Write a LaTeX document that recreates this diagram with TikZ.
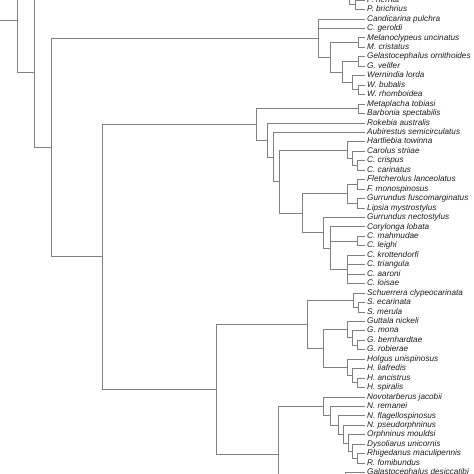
\documentclass[tikz,border=0pt]{standalone}
\usepackage{fontspec}
\setmainfont{Liberation Sans}
\definecolor{lg}{RGB}{128,128,128}
\definecolor{tx}{RGB}{30,30,30}
\begin{document}
\begin{tikzpicture}[x=1pt,y=-1pt,
  br/.style={draw=lg,line width=0.9pt},
  lab/.style={anchor=west,inner xsep=2pt,inner ysep=0pt,text height=6pt,text depth=1.8pt,font=\fontsize{8.2}{9}\selectfont\itshape,text=tx}]
\useasboundingbox (0,0) rectangle (474,474);
\clip (0,0) rectangle (474,474);
\fill[white] (0,0) rectangle (474,474);
% tips
\node[lab] (tA) at (365,0.1) {P. nernat};
\node[lab] (tB) at (365,9.55) {P. brichrius};
\node[lab] (t1) at (365,19) {Candicarina pulchra};
\node[lab] (t2) at (365,28.45) {C. geroldi};
\node[lab] (t3) at (365,37.9) {Melanoclypeus uncinatus};
\node[lab] (t4) at (365,47.35) {M. cristatus};
\node[lab] (t5) at (365,56.8) {Gelastocephalus ornithoides};
\node[lab] (t6) at (365,66.25) {G. velifer};
\node[lab] (t7) at (365,75.7) {Wernindia lorda};
\node[lab] (t8) at (365,85.15) {W. bubalis};
\node[lab] (t9) at (365,94.6) {W. rhomboidea};
\node[lab] (t10) at (365,104.05) {Metaplacha tobiasi};
\node[lab] (t11) at (365,113.5) {Barbonia spectabilis};
\node[lab] (t12) at (365,122.95) {Rokebia australis};
\node[lab] (t13) at (365,132.4) {Aubirestus semicirculatus};
\node[lab] (t14) at (365,141.85) {Hartliebia towinna};
\node[lab] (t15) at (365,151.3) {Carolus striiae};
\node[lab] (t16) at (365,160.75) {C. crispus};
\node[lab] (t17) at (365,170.2) {C. carinatus};
\node[lab] (t18) at (365,179.65) {Fletcherolus lanceolatus};
\node[lab] (t19) at (365,189.1) {F. monospinosus};
\node[lab] (t20) at (365,198.55) {Gurrundus fuscomarginatus};
\node[lab] (t21) at (365,208) {Lipsia mystrostylus};
\node[lab] (t22) at (365,217.45) {Gurrundus nectostylus};
\node[lab] (t23) at (365,226.9) {Corylonga lobata};
\node[lab] (t24) at (365,236.35) {C. mahmudae};
\node[lab] (t25) at (365,245.8) {C. leighi};
\node[lab] (t26) at (365,255.25) {C. krottendorfi};
\node[lab] (t27) at (365,264.7) {C. triangula};
\node[lab] (t28) at (365,274.15) {C. aaroni};
\node[lab] (t29) at (365,283.6) {C. loisae};
\node[lab] (t30) at (365,293.05) {Schuerrera clypeocarinata};
\node[lab] (t31) at (365,302.5) {S. ecarinata};
\node[lab] (t32) at (365,311.95) {S. merula};
\node[lab] (t33) at (365,321.4) {Guttala nickeli};
\node[lab] (t34) at (365,330.85) {G. mona};
\node[lab] (t35) at (365,340.3) {G. bernhardtae};
\node[lab] (t36) at (365,349.75) {G. robierae};
\node[lab] (t37) at (365,359.2) {Holgus unispinosus};
\node[lab] (t38) at (365,368.65) {H. liafredis};
\node[lab] (t39) at (365,378.1) {H. ancistrus};
\node[lab] (t40) at (365,387.55) {H. spiralis};
\node[lab] (t41) at (365,397) {Novotarberus jacobii};
\node[lab] (t42) at (365,406.45) {N. remanei};
\node[lab] (t43) at (365,415.9) {N. flagellospinosus};
\node[lab] (t44) at (365,425.35) {N. pseudorphninus};
\node[lab] (t45) at (365,434.8) {Orphninus mouldsi};
\node[lab] (t46) at (365,444.25) {Dysoliarus unicornis};
\node[lab] (t47) at (365,453.7) {Rhigedanus maculipennis};
\node[lab] (t48) at (365,463.15) {R. fomibundus};
\node[lab] (t49) at (365,472.6) {Galastocephalus desiccatibi};
% internal nodes
\coordinate (root) at (-5,20);
\coordinate (n17) at (17,20);
\coordinate (n17up) at (17,-10);
\coordinate (n34) at (34,72);
\coordinate (n34up) at (34,-10);
\coordinate (n51) at (51,147.5);
\coordinate (nCand) at (318,38.2);
\coordinate (n330) at (330,57.4);
\coordinate (nMel) at (358,42.6);
\coordinate (n342) at (342,72.15);
\coordinate (nGel) at (358,61.5);
\coordinate (nWer) at (352,82.8);
\coordinate (nWb) at (358,89.9);
\coordinate (nPPup) at (349,-10);
\coordinate (nP) at (355,4.8);
\coordinate (n102) at (102,256.8);
\coordinate (n256) at (256,124.4);
\coordinate (nMet) at (358,108.8);
\coordinate (n267) at (267,140);
\coordinate (n273) at (273,157.05);
\coordinate (n279) at (279,181.7);
\coordinate (nHart) at (347,150.1);
\coordinate (nCar) at (352,158.4);
\coordinate (nCc) at (357,165.5);
\coordinate (n302) at (302,213.3);
\coordinate (nFl) at (347,193.8);
\coordinate (nFl1) at (357,184.4);
\coordinate (nFl2) at (357,203.3);
\coordinate (n323a) at (323,232.8);
\coordinate (nCor) at (330,248.2);
\coordinate (nMah) at (357,241.1);
\coordinate (nKro) at (347,269.4);
\coordinate (n216) at (216,389.2);
\coordinate (n307) at (307,324.4);
\coordinate (nSch) at (353,300.1);
\coordinate (nSe) at (358,307.2);
\coordinate (n323b) at (323,348.6);
\coordinate (nGut) at (347,329.7);
\coordinate (nGm) at (352,337.9);
\coordinate (nGb) at (357,345.0);
\coordinate (nHol) at (347,367.5);
\coordinate (nHl) at (352,375.7);
\coordinate (nHa) at (357,382.8);
\coordinate (n278) at (278,454);
\coordinate (n278dn) at (278,490);
\coordinate (nNov) at (323,406.4);
\coordinate (nN2) at (330,415.75);
\coordinate (nN3) at (338,425.06);
\coordinate (nN4) at (343,434.21);
\coordinate (nN5) at (348,443.07);
\coordinate (nN6) at (352,451.34);
\coordinate (nN7) at (357,458.43);
\coordinate (nG49) at (345,490);
% straight stubs
\draw[br] (root) -- (n17);
\draw[br] (n17) -- (n17up);
\draw[br] (n34) -- (n34up);
\draw[br] (n278) -- (n278dn);
% internal edges
\foreach \p/\c in {n17/n34,n34/n51,n51/nCand,n51/n102,nCand/n330,n330/nMel,n330/n342,
  n342/nGel,n342/nWer,nWer/nWb,nPPup/nP,n102/n256,n102/n216,n256/nMet,n256/n267,
  n267/n273,n273/n279,n279/nHart,n279/n302,nHart/nCar,nCar/nCc,n302/nFl,n302/n323a,
  nFl/nFl1,nFl/nFl2,n323a/nCor,nCor/nMah,nCor/nKro,n216/n307,n216/n278,n307/nSch,
  n307/n323b,nSch/nSe,n323b/nGut,n323b/nHol,nGut/nGm,nGm/nGb,nHol/nHl,nHl/nHa,
  n278/nNov,nNov/nN2,nN2/nN3,nN3/nN4,nN4/nN5,nN5/nN6,nN6/nN7}
  \draw[br] (\p) |- (\c);
% tip edges
\foreach \p/\c in {nP/tA,nP/tB,nCand/t1,nCand/t2,nMel/t3,nMel/t4,nGel/t5,nGel/t6,
  nWer/t7,nWb/t8,nWb/t9,nMet/t10,nMet/t11,n267/t12,n273/t13,nHart/t14,nCar/t15,
  nCc/t16,nCc/t17,nFl1/t18,nFl1/t19,nFl2/t20,nFl2/t21,n323a/t22,nCor/t23,nMah/t24,
  nMah/t25,nKro/t26,nKro/t27,nKro/t28,nKro/t29,nSch/t30,nSe/t31,nSe/t32,nGut/t33,
  nGm/t34,nGb/t35,nGb/t36,nHol/t37,nHl/t38,nHa/t39,nHa/t40,nNov/t41,nN2/t42,
  nN3/t43,nN4/t44,nN5/t45,nN6/t46,nN7/t47,nN7/t48,nG49/t49}
  \draw[br] (\p) |- (\c.west);
\end{tikzpicture}
\end{document}
